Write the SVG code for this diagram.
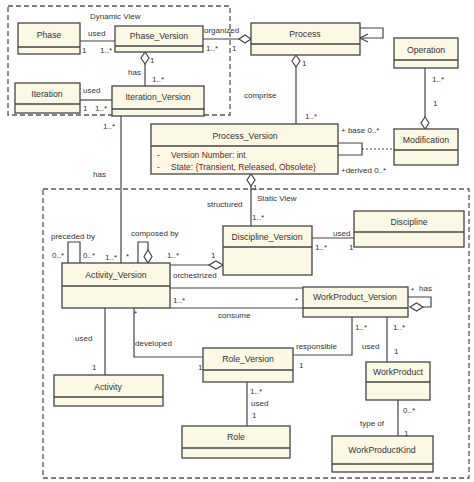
<svg xmlns="http://www.w3.org/2000/svg" width="474" height="482" viewBox="0 0 474 482">
<style>
.box{fill:#fbf8e4;stroke:#444;stroke-width:1.3}
.div{stroke:#444;stroke-width:1.3}
.name{font-family:"Liberation Sans",Arial,sans-serif;font-size:8.7px;fill:#333;text-anchor:middle}
.lbl{font-family:"Liberation Sans",Arial,sans-serif;font-size:8px;fill:#333}
.attr{font-family:"Liberation Sans",Arial,sans-serif;font-size:8.5px;fill:#6b1e1e}
.ln{fill:none;stroke:#444;stroke-width:1.2}
.dia{fill:#fff;stroke:#444;stroke-width:1.2}
.dash{fill:none;stroke:#555;stroke-width:1.3;stroke-dasharray:5,3}
</style>
<rect width="474" height="482" fill="#fff"/>
<g id="views">
<rect class="dash" x="8" y="6" width="222" height="109"/>
<text class="lbl" x="90" y="19" font-size="8.5">Dynamic View</text>
<rect class="dash" x="43" y="189" width="426" height="289"/>
<text class="lbl" x="257" y="201" font-size="8.5">Static View</text>
</g>
<g id="connectors">
<line class="ln" x1="80" y1="41" x2="115" y2="41"/>
<line class="ln" x1="80" y1="100" x2="112" y2="100"/>
<line class="ln" x1="203" y1="39" x2="239" y2="39"/>
<path class="dia" d="M239,39 L245,35 L251,39 L245,43 Z"/>
<path class="dia" d="M145,52 L149,58 L145,64 L141,58 Z"/>
<line class="ln" x1="145" y1="64" x2="145" y2="86"/>
<path class="ln" d="M360,28 H383 V38 H360"/>
<path class="ln" d="M368,34 L360,38 L368,42"/>
<path class="dia" d="M296,55 L300,61 L296,67 L292,61 Z"/>
<line class="ln" x1="296" y1="67" x2="296" y2="124"/>
<line class="ln" x1="425" y1="68" x2="425" y2="117"/>
<path class="dia" d="M425,117 L429,123 L425,129 L421,123 Z"/>
<path class="ln" d="M338,143 H362 V155 H338"/>
<line class="ln" x1="362" y1="149" x2="394" y2="149" stroke-dasharray="2,2"/>
<path class="dia" d="M251,174 L255,180 L251,186 L247,180 Z"/>
<line class="ln" x1="251" y1="186" x2="251" y2="226"/>
<line class="ln" x1="121" y1="116" x2="121" y2="263"/>
<line class="ln" x1="312" y1="238" x2="354" y2="238"/>
<path class="ln" d="M68,263 V242 H80 V263"/>
<path class="ln" d="M138,263 V242 H148 V250"/>
<path class="dia" d="M148,250 L152,256.5 L148,263 L144,256.5 Z"/>
<line class="ln" x1="170" y1="265" x2="209" y2="265"/>
<path class="dia" d="M209,265 L216,261 L223,265 L216,269 Z"/>
<line class="ln" x1="170" y1="288" x2="303" y2="288"/>
<line class="ln" x1="170" y1="308" x2="303" y2="308"/>
<path class="ln" d="M134,308 V357 H203"/>
<path class="ln" d="M352,317 V355 H293"/>
<line class="ln" x1="387" y1="317" x2="387" y2="362"/>
<path class="ln" d="M408,297 H431 V307 H423"/>
<path class="dia" d="M410,307 L416.5,303 L423,307 L416.5,311 Z"/>
<line class="ln" x1="398" y1="400" x2="398" y2="436"/>
<line class="ln" x1="247" y1="382" x2="247" y2="426"/>
<line class="ln" x1="105" y1="308" x2="105" y2="375"/>
</g>
<g id="labels">
<text class="lbl" x="88" y="36">used</text>
<text class="lbl" x="82" y="53">1</text>
<text class="lbl" x="100" y="53">1..*</text>
<text class="lbl" x="204" y="33">organized</text>
<text class="lbl" x="206" y="51">1..*</text>
<text class="lbl" x="232" y="51">1</text>
<text class="lbl" x="150" y="63">1</text>
<text class="lbl" x="128" y="75">has</text>
<text class="lbl" x="152" y="82">1..*</text>
<text class="lbl" x="83" y="93">used</text>
<text class="lbl" x="83" y="111">1</text>
<text class="lbl" x="95" y="111">1..*</text>
<text class="lbl" x="103" y="129">1..*</text>
<text class="lbl" x="93" y="177">has</text>
<text class="lbl" x="244" y="98">comprise</text>
<text class="lbl" x="302" y="66">1</text>
<text class="lbl" x="305" y="119">1..*</text>
<text class="lbl" x="432" y="82">1..*</text>
<text class="lbl" x="433" y="106">1</text>
<text class="lbl" x="341" y="133">+ base 0..*</text>
<text class="lbl" x="341" y="173">+derived 0..*</text>
<text class="lbl" x="253" y="190">1</text>
<text class="lbl" x="207" y="207">structured</text>
<text class="lbl" x="252" y="220">1..*</text>
<text class="lbl" x="333" y="236">used</text>
<text class="lbl" x="315" y="250">1..*</text>
<text class="lbl" x="349" y="250">1</text>
<text class="lbl" x="51" y="239">preceded by</text>
<text class="lbl" x="131" y="236">composed by</text>
<text class="lbl" x="52" y="258">0..*</text>
<text class="lbl" x="83" y="258">0..*</text>
<text class="lbl" x="105" y="260">1..*</text>
<text class="lbl" x="126" y="259">*</text>
<text class="lbl" x="167" y="258">1..*</text>
<text class="lbl" x="211" y="258">1</text>
<text class="lbl" x="173" y="278">orchestrized</text>
<text class="lbl" x="108" y="301">1..*</text>
<text class="lbl" x="173" y="303">1..*</text>
<text class="lbl" x="295" y="303">*</text>
<text class="lbl" x="218" y="318">consume</text>
<text class="lbl" x="134" y="316">*</text>
<text class="lbl" x="135" y="346">developed</text>
<text class="lbl" x="198" y="370">1</text>
<text class="lbl" x="296" y="349">responsible</text>
<text class="lbl" x="299" y="368">1</text>
<text class="lbl" x="355" y="330">1..*</text>
<text class="lbl" x="393" y="330">1..*</text>
<text class="lbl" x="362" y="349">used</text>
<text class="lbl" x="394" y="354">1</text>
<text class="lbl" x="411" y="293">*</text>
<text class="lbl" x="419" y="291">has</text>
<text class="lbl" x="250" y="394">1..*</text>
<text class="lbl" x="251" y="406">used</text>
<text class="lbl" x="252" y="418">1</text>
<text class="lbl" x="403" y="413">0..*</text>
<text class="lbl" x="360" y="426">type of</text>
<text class="lbl" x="404" y="436">1</text>
<text class="lbl" x="75" y="341">used</text>
<text class="lbl" x="92" y="370">1</text>
</g>
<g id="Phase"><rect class="box" x="18" y="23" width="62" height="31"/><line class="div" x1="18" y1="47" x2="80" y2="47"/><text class="name" x="49" y="38">Phase</text></g>
<g id="Phase_Version"><rect class="box" x="115" y="26" width="88" height="26"/><line class="div" x1="115" y1="46" x2="203" y2="46"/><text class="name" x="159" y="39">Phase_Version</text></g>
<g id="Iteration"><rect class="box" x="15" y="83" width="65" height="30"/><line class="div" x1="15" y1="104" x2="80" y2="104"/><text class="name" x="47" y="97">Iteration</text></g>
<g id="Iteration_Version"><rect class="box" x="112" y="86" width="92" height="30"/><line class="div" x1="112" y1="109" x2="204" y2="109"/><text class="name" x="158" y="100">Iteration_Version</text></g>
<g id="Process"><rect class="box" x="251" y="23" width="109" height="32"/><line class="div" x1="251" y1="44" x2="360" y2="44"/><text class="name" x="305" y="37">Process</text></g>
<g id="Operation"><rect class="box" x="394" y="38" width="64" height="30"/><line class="div" x1="394" y1="60" x2="458" y2="60"/><text class="name" x="426" y="53">Operation</text></g>
<g id="Modification"><rect class="box" x="394" y="129" width="64" height="36"/><line class="div" x1="394" y1="150" x2="458" y2="150"/><text class="name" x="426" y="143">Modification</text></g>
<g id="Process_Version"><rect class="box" x="151" y="124" width="187" height="50"/><line class="div" x1="151" y1="146" x2="338" y2="146"/><text class="name" x="245" y="139">Process_Version</text><text class="attr" x="157" y="158">-</text><text class="attr" x="171" y="158">Version Number: int</text><text class="attr" x="157" y="170">-</text><text class="attr" x="171" y="170">State: {Transient, Released, Obsolete}</text></g>
<g id="Discipline_Version"><rect class="box" x="223" y="226" width="89" height="49"/><line class="div" x1="223" y1="247" x2="312" y2="247"/><text class="name" x="267" y="240">Discipline_Version</text></g>
<g id="Discipline"><rect class="box" x="354" y="211" width="110" height="36"/><line class="div" x1="354" y1="232" x2="464" y2="232"/><text class="name" x="409" y="225">Discipline</text></g>
<g id="Activity_Version"><rect class="box" x="62" y="263" width="108" height="45"/><line class="div" x1="62" y1="286" x2="170" y2="286"/><text class="name" x="116" y="278">Activity_Version</text></g>
<g id="WorkProduct_Version"><rect class="box" x="303" y="287" width="105" height="30"/><line class="div" x1="303" y1="308" x2="408" y2="308"/><text class="name" x="355" y="300">WorkProduct_Version</text></g>
<g id="Role_Version"><rect class="box" x="203" y="348" width="90" height="34"/><line class="div" x1="203" y1="370" x2="293" y2="370"/><text class="name" x="248" y="362">Role_Version</text></g>
<g id="WorkProduct"><rect class="box" x="366" y="362" width="64" height="38"/><line class="div" x1="366" y1="382" x2="430" y2="382"/><text class="name" x="398" y="375">WorkProduct</text></g>
<g id="Activity"><rect class="box" x="54" y="375" width="109" height="31"/><line class="div" x1="54" y1="397" x2="163" y2="397"/><text class="name" x="108" y="390">Activity</text></g>
<g id="Role"><rect class="box" x="182" y="426" width="108" height="32"/><line class="div" x1="182" y1="448" x2="290" y2="448"/><text class="name" x="236" y="440">Role</text></g>
<g id="WorkProductKind"><rect class="box" x="332" y="436" width="101" height="36"/><line class="div" x1="332" y1="464" x2="433" y2="464"/><text class="name" x="382" y="453">WorkProductKind</text></g>
</svg>
